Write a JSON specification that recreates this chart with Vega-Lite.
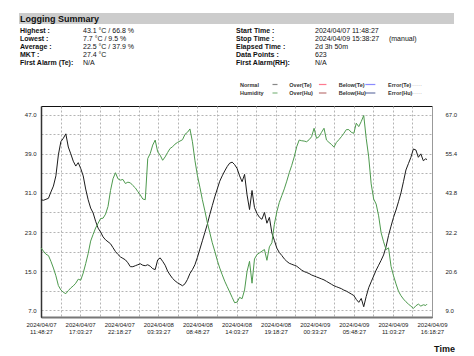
{
  "$schema": "https://vega.github.io/schema/vega-lite/v6.json",
  "width": 391,
  "height": 211,
  "autosize": {"type": "none"},
  "padding": {"left": 41, "top": 106, "right": 42, "bottom": 39},
  "background": "white",
  "config": {
    "font": "Liberation Sans",
    "view": {"stroke": "#111111", "strokeWidth": 1}
  },
  "datasets": {
    "title": [{"text": "Logging Summary"}],
    "summary": [
      {"side": "left", "row": 1, "label": "Highest :", "value": "43.1 °C / 66.8 %"},
      {"side": "left", "row": 2, "label": "Lowest :", "value": "7.7 °C / 9.5 %"},
      {"side": "left", "row": 3, "label": "Average :", "value": "22.5 °C / 37.9 %"},
      {"side": "left", "row": 4, "label": "MKT :", "value": "27.4 °C"},
      {"side": "left", "row": 5, "label": "First Alarm (Te):", "value": "N/A"},
      {"side": "right", "row": 1, "label": "Start Time :", "value": "2024/04/07 11:48:27"},
      {"side": "right", "row": 2, "label": "Stop Time :", "value": "2024/04/09 15:38:27\u00a0\u00a0\u00a0\u00a0\u00a0(manual)"},
      {"side": "right", "row": 3, "label": "Elapsed Time :", "value": "2d 3h 50m"},
      {"side": "right", "row": 4, "label": "Data Points :", "value": "623"},
      {"side": "right", "row": 5, "label": "First Alarm(RH):", "value": "N/A"}
    ],
    "legend": [
      {"row": "Te", "col": 1, "label": "Normal"},
      {"row": "Te", "col": 2, "label": "Over(Te)"},
      {"row": "Te", "col": 3, "label": "Below(Te)"},
      {"row": "Te", "col": 4, "label": "Error(Te)"},
      {"row": "Hu", "col": 1, "label": "Humidity"},
      {"row": "Hu", "col": 2, "label": "Over(Hu)"},
      {"row": "Hu", "col": 3, "label": "Below(Hu)"},
      {"row": "Hu", "col": 4, "label": "Error(Hu)"}
    ],
    "series": [
      {"t": "2024-04-07T11:48:27", "T": 29.6, "H": 27.5},
      {"t": "2024-04-07T12:08:27", "T": 29.5, "H": 26.5},
      {"t": "2024-04-07T12:28:27", "T": 29.7, "H": 25.6},
      {"t": "2024-04-07T12:48:27", "T": 29.9, "H": 25.2},
      {"t": "2024-04-07T13:08:27", "T": 31.2, "H": 23.5},
      {"t": "2024-04-07T13:28:27", "T": 32.4, "H": 21.5},
      {"t": "2024-04-07T13:48:27", "T": 34.5, "H": 19.2},
      {"t": "2024-04-07T14:08:27", "T": 38.8, "H": 16.3},
      {"t": "2024-04-07T14:28:27", "T": 41.5, "H": 15.0},
      {"t": "2024-04-07T14:48:27", "T": 42.2, "H": 14.3},
      {"t": "2024-04-07T15:08:27", "T": 43.1, "H": 13.9},
      {"t": "2024-04-07T15:28:27", "T": 40.4, "H": 14.8},
      {"t": "2024-04-07T15:48:27", "T": 39.0, "H": 15.6},
      {"t": "2024-04-07T16:08:27", "T": 37.5, "H": 16.2},
      {"t": "2024-04-07T16:28:27", "T": 36.5, "H": 17.0},
      {"t": "2024-04-07T16:48:27", "T": 37.2, "H": 18.2},
      {"t": "2024-04-07T17:08:27", "T": 36.0, "H": 17.9},
      {"t": "2024-04-07T17:28:27", "T": 34.5, "H": 20.0},
      {"t": "2024-04-07T17:48:27", "T": 31.8, "H": 22.8},
      {"t": "2024-04-07T18:08:27", "T": 29.6, "H": 25.8},
      {"t": "2024-04-07T18:28:27", "T": 27.9, "H": 29.5},
      {"t": "2024-04-07T18:48:27", "T": 26.9, "H": 31.5},
      {"t": "2024-04-07T19:08:27", "T": 25.2, "H": 33.4},
      {"t": "2024-04-07T19:28:27", "T": 23.8, "H": 34.8},
      {"t": "2024-04-07T19:48:27", "T": 23.0, "H": 36.2},
      {"t": "2024-04-07T20:08:27", "T": 22.0, "H": 36.3},
      {"t": "2024-04-07T20:28:27", "T": 21.4, "H": 37.5},
      {"t": "2024-04-07T20:48:27", "T": 21.0, "H": 39.8},
      {"t": "2024-04-07T21:08:27", "T": 20.6, "H": 44.5},
      {"t": "2024-04-07T21:28:27", "T": 19.8, "H": 48.0},
      {"t": "2024-04-07T21:48:27", "T": 19.0, "H": 49.8},
      {"t": "2024-04-07T22:08:27", "T": 18.4, "H": 48.0},
      {"t": "2024-04-07T22:28:27", "T": 17.9, "H": 47.6},
      {"t": "2024-04-07T22:48:27", "T": 17.6, "H": 47.8},
      {"t": "2024-04-07T23:08:27", "T": 17.3, "H": 46.6},
      {"t": "2024-04-07T23:28:27", "T": 16.7, "H": 47.0},
      {"t": "2024-04-07T23:48:27", "T": 15.9, "H": 46.8},
      {"t": "2024-04-08T00:08:27", "T": 15.9, "H": 46.0},
      {"t": "2024-04-08T00:28:27", "T": 16.1, "H": 45.3},
      {"t": "2024-04-08T00:48:27", "T": 16.3, "H": 44.2},
      {"t": "2024-04-08T01:08:27", "T": 16.5, "H": 43.2},
      {"t": "2024-04-08T01:28:27", "T": 16.2, "H": 42.0},
      {"t": "2024-04-08T01:48:27", "T": 16.1, "H": 41.8},
      {"t": "2024-04-08T02:08:27", "T": 16.3, "H": 54.0},
      {"t": "2024-04-08T02:28:27", "T": 16.0, "H": 55.5},
      {"t": "2024-04-08T02:48:27", "T": 15.5, "H": 58.0},
      {"t": "2024-04-08T03:08:27", "T": 15.3, "H": 59.5},
      {"t": "2024-04-08T03:28:27", "T": 17.3, "H": 56.0},
      {"t": "2024-04-08T03:48:27", "T": 17.7, "H": 55.0},
      {"t": "2024-04-08T04:08:27", "T": 17.0, "H": 53.5},
      {"t": "2024-04-08T04:28:27", "T": 16.2, "H": 54.5},
      {"t": "2024-04-08T04:48:27", "T": 15.0, "H": 55.8},
      {"t": "2024-04-08T05:08:27", "T": 14.2, "H": 57.0},
      {"t": "2024-04-08T05:28:27", "T": 13.5, "H": 57.5},
      {"t": "2024-04-08T05:48:27", "T": 13.0, "H": 58.3},
      {"t": "2024-04-08T06:08:27", "T": 12.6, "H": 58.8},
      {"t": "2024-04-08T06:28:27", "T": 12.3, "H": 59.2},
      {"t": "2024-04-08T06:48:27", "T": 12.0, "H": 59.6},
      {"t": "2024-04-08T07:08:27", "T": 12.4, "H": 61.2},
      {"t": "2024-04-08T07:28:27", "T": 13.3, "H": 61.8},
      {"t": "2024-04-08T07:48:27", "T": 14.5, "H": 62.8},
      {"t": "2024-04-08T08:08:27", "T": 15.3, "H": 59.0},
      {"t": "2024-04-08T08:28:27", "T": 16.3, "H": 53.5},
      {"t": "2024-04-08T08:48:27", "T": 17.8, "H": 49.0},
      {"t": "2024-04-08T09:08:27", "T": 19.5, "H": 45.5},
      {"t": "2024-04-08T09:28:27", "T": 21.2, "H": 41.8},
      {"t": "2024-04-08T09:48:27", "T": 22.9, "H": 38.5},
      {"t": "2024-04-08T10:08:27", "T": 24.6, "H": 35.0},
      {"t": "2024-04-08T10:28:27", "T": 26.6, "H": 32.0},
      {"t": "2024-04-08T10:48:27", "T": 28.4, "H": 29.0},
      {"t": "2024-04-08T11:08:27", "T": 30.2, "H": 26.5},
      {"t": "2024-04-08T11:28:27", "T": 31.8, "H": 23.8},
      {"t": "2024-04-08T11:48:27", "T": 33.4, "H": 21.5},
      {"t": "2024-04-08T12:08:27", "T": 34.5, "H": 19.5},
      {"t": "2024-04-08T12:28:27", "T": 35.5, "H": 17.6},
      {"t": "2024-04-08T12:48:27", "T": 36.4, "H": 16.0},
      {"t": "2024-04-08T13:08:27", "T": 37.1, "H": 14.4},
      {"t": "2024-04-08T13:28:27", "T": 37.3, "H": 12.8},
      {"t": "2024-04-08T13:48:27", "T": 36.8, "H": 11.2},
      {"t": "2024-04-08T14:08:27", "T": 36.0, "H": 11.4},
      {"t": "2024-04-08T14:28:27", "T": 34.5, "H": 12.8},
      {"t": "2024-04-08T14:48:27", "T": 33.3, "H": 12.4},
      {"t": "2024-04-08T15:08:27", "T": 34.8, "H": 15.0},
      {"t": "2024-04-08T15:28:27", "T": 30.6, "H": 20.5},
      {"t": "2024-04-08T15:48:27", "T": 27.6, "H": 23.5},
      {"t": "2024-04-08T16:08:27", "T": 31.5, "H": 17.0},
      {"t": "2024-04-08T16:28:27", "T": 28.0, "H": 24.2},
      {"t": "2024-04-08T16:48:27", "T": 26.8, "H": 25.5},
      {"t": "2024-04-08T17:08:27", "T": 26.0, "H": 26.0},
      {"t": "2024-04-08T17:28:27", "T": 25.6, "H": 26.5},
      {"t": "2024-04-08T17:48:27", "T": 27.0, "H": 27.0},
      {"t": "2024-04-08T18:08:27", "T": 24.8, "H": 23.8},
      {"t": "2024-04-08T18:28:27", "T": 26.0, "H": 27.8},
      {"t": "2024-04-08T18:48:27", "T": 22.8, "H": 29.0},
      {"t": "2024-04-08T19:08:27", "T": 21.3, "H": 34.5},
      {"t": "2024-04-08T19:28:27", "T": 19.7, "H": 38.2},
      {"t": "2024-04-08T19:48:27", "T": 18.8, "H": 41.0},
      {"t": "2024-04-08T20:08:27", "T": 18.2, "H": 43.0},
      {"t": "2024-04-08T20:28:27", "T": 17.5, "H": 45.0},
      {"t": "2024-04-08T20:48:27", "T": 17.0, "H": 47.3},
      {"t": "2024-04-08T21:08:27", "T": 16.6, "H": 49.8},
      {"t": "2024-04-08T21:28:27", "T": 16.4, "H": 52.0},
      {"t": "2024-04-08T21:48:27", "T": 16.2, "H": 54.5},
      {"t": "2024-04-08T22:08:27", "T": 16.0, "H": 57.5},
      {"t": "2024-04-08T22:28:27", "T": 15.6, "H": 59.5},
      {"t": "2024-04-08T22:48:27", "T": 15.2, "H": 59.3},
      {"t": "2024-04-08T23:08:27", "T": 14.9, "H": 59.2},
      {"t": "2024-04-08T23:28:27", "T": 14.7, "H": 59.0},
      {"t": "2024-04-08T23:48:27", "T": 14.5, "H": 59.6},
      {"t": "2024-04-09T00:08:27", "T": 14.2, "H": 60.5},
      {"t": "2024-04-09T00:28:27", "T": 14.0, "H": 63.0},
      {"t": "2024-04-09T00:48:27", "T": 13.8, "H": 60.0},
      {"t": "2024-04-09T01:08:27", "T": 13.6, "H": 60.5},
      {"t": "2024-04-09T01:28:27", "T": 13.4, "H": 61.8},
      {"t": "2024-04-09T01:48:27", "T": 13.2, "H": 63.0},
      {"t": "2024-04-09T02:08:27", "T": 12.9, "H": 59.5},
      {"t": "2024-04-09T02:28:27", "T": 12.6, "H": 58.8},
      {"t": "2024-04-09T02:48:27", "T": 12.3, "H": 58.2},
      {"t": "2024-04-09T03:08:27", "T": 12.0, "H": 57.4},
      {"t": "2024-04-09T03:28:27", "T": 11.8, "H": 58.8},
      {"t": "2024-04-09T03:48:27", "T": 11.6, "H": 59.6},
      {"t": "2024-04-09T04:08:27", "T": 11.4, "H": 60.5},
      {"t": "2024-04-09T04:28:27", "T": 11.1, "H": 61.5},
      {"t": "2024-04-09T04:48:27", "T": 10.9, "H": 62.6},
      {"t": "2024-04-09T05:08:27", "T": 10.6, "H": 62.6},
      {"t": "2024-04-09T05:28:27", "T": 10.3, "H": 61.8},
      {"t": "2024-04-09T05:48:27", "T": 10.0, "H": 61.5},
      {"t": "2024-04-09T06:08:27", "T": 9.2, "H": 64.5},
      {"t": "2024-04-09T06:28:27", "T": 8.6, "H": 63.5},
      {"t": "2024-04-09T06:48:27", "T": 9.4, "H": 65.0},
      {"t": "2024-04-09T07:08:27", "T": 7.7, "H": 66.8},
      {"t": "2024-04-09T07:28:27", "T": 9.8, "H": 60.0},
      {"t": "2024-04-09T07:48:27", "T": 11.6, "H": 54.5},
      {"t": "2024-04-09T08:08:27", "T": 12.8, "H": 46.5},
      {"t": "2024-04-09T08:28:27", "T": 14.0, "H": 42.0},
      {"t": "2024-04-09T08:48:27", "T": 15.2, "H": 40.5},
      {"t": "2024-04-09T09:08:27", "T": 16.2, "H": 37.0},
      {"t": "2024-04-09T09:28:27", "T": 17.2, "H": 32.0},
      {"t": "2024-04-09T09:48:27", "T": 18.3, "H": 29.3},
      {"t": "2024-04-09T10:08:27", "T": 20.0, "H": 27.0},
      {"t": "2024-04-09T10:28:27", "T": 22.3, "H": 27.5},
      {"t": "2024-04-09T10:48:27", "T": 24.2, "H": 22.0},
      {"t": "2024-04-09T11:08:27", "T": 26.0, "H": 19.2},
      {"t": "2024-04-09T11:28:27", "T": 27.5, "H": 16.8},
      {"t": "2024-04-09T11:48:27", "T": 29.2, "H": 14.6},
      {"t": "2024-04-09T12:08:27", "T": 31.0, "H": 13.3},
      {"t": "2024-04-09T12:28:27", "T": 33.3, "H": 12.3},
      {"t": "2024-04-09T12:48:27", "T": 35.7, "H": 11.5},
      {"t": "2024-04-09T13:08:27", "T": 37.0, "H": 10.8},
      {"t": "2024-04-09T13:28:27", "T": 38.3, "H": 10.2},
      {"t": "2024-04-09T13:48:27", "T": 40.0, "H": 9.5},
      {"t": "2024-04-09T14:08:27", "T": 39.8, "H": 10.3},
      {"t": "2024-04-09T14:28:27", "T": 38.3, "H": 10.8},
      {"t": "2024-04-09T14:48:27", "T": 39.0, "H": 10.2},
      {"t": "2024-04-09T15:08:27", "T": 37.6, "H": 10.6},
      {"t": "2024-04-09T15:28:27", "T": 38.0, "H": 10.4},
      {"t": "2024-04-09T15:38:27", "T": 37.8, "H": 10.8}
    ]
  },
  "layer": [
    {
      "data": {"name": "title"},
      "layer": [
        {
          "mark": {"type": "rect", "color": "#cccccc"},
          "encoding": {
            "x": {"field": "text", "type": "nominal", "scale": {"type": "band", "range": [-22, 413], "paddingInner": 0, "paddingOuter": 0}, "axis": null},
            "y": {"field": "text", "type": "nominal", "scale": {"type": "band", "range": [-93, -82], "paddingInner": 0, "paddingOuter": 0}, "axis": null}
          }
        },
        {
          "mark": {"type": "text", "align": "left", "baseline": "middle", "fontSize": 9, "fontWeight": "bold", "color": "#111111", "dx": 1},
          "encoding": {
            "x": {"field": "text", "type": "nominal", "bandPosition": 0, "scale": {"type": "band", "range": [-22, 413], "paddingInner": 0, "paddingOuter": 0}, "axis": null},
            "y": {"field": "text", "type": "nominal", "bandPosition": 0.5, "scale": {"type": "band", "range": [-93, -82], "paddingInner": 0, "paddingOuter": 0}, "axis": null},
            "text": {"field": "text"}
          }
        }
      ]
    },
    {
      "data": {"name": "summary"},
      "mark": {"type": "text", "align": "left", "baseline": "middle", "fontSize": 7, "fontWeight": "bold", "color": "#111111"},
      "encoding": {
        "x": {"field": "side", "type": "nominal", "scale": {"type": "point", "domain": ["left", "right"], "range": [-21, 195], "padding": 0}, "axis": null},
        "y": {"field": "row", "type": "ordinal", "scale": {"type": "point", "range": [-75, -43], "padding": 0}, "axis": null},
        "text": {"field": "label"}
      }
    },
    {
      "data": {"name": "summary"},
      "mark": {"type": "text", "align": "left", "baseline": "middle", "fontSize": 7, "color": "#111111"},
      "encoding": {
        "x": {"field": "side", "type": "nominal", "scale": {"type": "point", "domain": ["left", "right"], "range": [42, 274], "padding": 0}, "axis": null},
        "y": {"field": "row", "type": "ordinal", "scale": {"type": "point", "range": [-75, -43], "padding": 0}, "axis": null},
        "text": {"field": "value"}
      }
    },
    {
      "data": {"name": "legend"},
      "mark": {"type": "text", "align": "left", "baseline": "middle", "fontSize": 5.5, "fontWeight": "bold", "color": "#333333"},
      "encoding": {
        "x": {"field": "col", "type": "ordinal", "scale": {"type": "point", "range": [199, 347], "padding": 0}, "axis": null},
        "y": {"field": "row", "type": "nominal", "scale": {"type": "point", "domain": ["Te", "Hu"], "range": [-21.5, -13], "padding": 0}, "axis": null},
        "text": {"field": "label"}
      }
    },
    {
      "data": {"name": "legend"},
      "transform": [{"filter": "datum.col != 4"}],
      "mark": {"type": "tick", "orient": "horizontal", "thickness": 1.2},
      "encoding": {
        "x": {"field": "col", "type": "ordinal", "scale": {"type": "point", "domain": [1, 2, 3, 4], "range": [234, 377], "padding": 0}, "axis": null},
        "y": {"field": "row", "type": "nominal", "scale": {"type": "point", "domain": ["Te", "Hu"], "range": [-21.5, -13], "padding": 0}, "axis": null},
        "size": {"field": "col", "type": "ordinal", "scale": {"domain": [1, 2, 3], "range": [5, 10, 11]}, "legend": null},
        "color": {"field": "label", "type": "nominal", "scale": {"domain": ["Normal", "Over(Te)", "Below(Te)", "Humidity", "Over(Hu)", "Below(Hu)"], "range": ["#555555", "#ff4060", "#5a5aff", "#4e9a4e", "#a03a3a", "#2a3a80"]}, "legend": null}
      }
    },
    {
      "data": {"name": "legend"},
      "transform": [{"filter": "datum.col == 4"}],
      "mark": {"type": "text", "text": "·····", "fontSize": 6, "color": "#888888", "baseline": "middle", "align": "left"},
      "encoding": {
        "x": {"field": "col", "type": "ordinal", "scale": {"type": "point", "domain": [1, 2, 3, 4], "range": [229, 371], "padding": 0}, "axis": null},
        "y": {"field": "row", "type": "nominal", "scale": {"type": "point", "domain": ["Te", "Hu"], "range": [-21.5, -13], "padding": 0}, "axis": null}
      }
    },
    {
      "data": {"name": "series"},
      "layer": [
        {
          "mark": {"type": "line", "color": "#1c1c1c", "strokeWidth": 1},
          "encoding": {
            "x": {
              "field": "t", "type": "temporal",
              "scale": {"domain": [{"year": 2024, "month": 4, "date": 7, "hours": 11, "minutes": 48, "seconds": 27}, {"year": 2024, "month": 4, "date": 9, "hours": 16, "minutes": 18, "seconds": 27}]},
              "axis": {
                "values": [
                  {"year": 2024, "month": 4, "date": 7, "hours": 11, "minutes": 48, "seconds": 27},
                  {"year": 2024, "month": 4, "date": 7, "hours": 14, "minutes": 25, "seconds": 57},
                  {"year": 2024, "month": 4, "date": 7, "hours": 17, "minutes": 3, "seconds": 27},
                  {"year": 2024, "month": 4, "date": 7, "hours": 19, "minutes": 40, "seconds": 57},
                  {"year": 2024, "month": 4, "date": 7, "hours": 22, "minutes": 18, "seconds": 27},
                  {"year": 2024, "month": 4, "date": 8, "hours": 0, "minutes": 55, "seconds": 57},
                  {"year": 2024, "month": 4, "date": 8, "hours": 3, "minutes": 33, "seconds": 27},
                  {"year": 2024, "month": 4, "date": 8, "hours": 6, "minutes": 10, "seconds": 57},
                  {"year": 2024, "month": 4, "date": 8, "hours": 8, "minutes": 48, "seconds": 27},
                  {"year": 2024, "month": 4, "date": 8, "hours": 11, "minutes": 25, "seconds": 57},
                  {"year": 2024, "month": 4, "date": 8, "hours": 14, "minutes": 3, "seconds": 27},
                  {"year": 2024, "month": 4, "date": 8, "hours": 16, "minutes": 40, "seconds": 57},
                  {"year": 2024, "month": 4, "date": 8, "hours": 19, "minutes": 18, "seconds": 27},
                  {"year": 2024, "month": 4, "date": 8, "hours": 21, "minutes": 55, "seconds": 57},
                  {"year": 2024, "month": 4, "date": 9, "hours": 0, "minutes": 33, "seconds": 27},
                  {"year": 2024, "month": 4, "date": 9, "hours": 3, "minutes": 10, "seconds": 57},
                  {"year": 2024, "month": 4, "date": 9, "hours": 5, "minutes": 48, "seconds": 27},
                  {"year": 2024, "month": 4, "date": 9, "hours": 8, "minutes": 25, "seconds": 57},
                  {"year": 2024, "month": 4, "date": 9, "hours": 11, "minutes": 3, "seconds": 27},
                  {"year": 2024, "month": 4, "date": 9, "hours": 13, "minutes": 40, "seconds": 57},
                  {"year": 2024, "month": 4, "date": 9, "hours": 16, "minutes": 18, "seconds": 27}
                ],
                "tickCount": 100,
                "labelExpr": "round((datum.value - datetime(2024, 3, 7, 11, 48, 27)) / 9450000) % 2 == 0 ? [timeFormat(datum.value, '%Y/%m/%d'), timeFormat(datum.value, '%H:%M:%S')] : ''",
                "labelOverlap": false,
                "labelFlush": false,
                "labelFontSize": 6,
                "labelColor": "#222222",
                "labelLineHeight": 7,
                "labelPadding": 4,
                "labelAngle": 0,
                "ticks": false,
                "grid": true,
                "gridColor": "#b4b4b4",
                "gridDash": [2, 2],
                "gridWidth": 1,
                "gridOpacity": 1,
                "domainColor": "#777777",
                "domainWidth": 2,
                "title": "Time",
                "titleFontSize": 9,
                "titleFontWeight": "bold",
                "titleColor": "#111111",
                "titleX": 403,
                "titleY": 31,
                "titleAlign": "center",
                "titleBaseline": "middle"
              }
            },
            "y": {
              "field": "T", "type": "quantitative",
              "scale": {"domain": [5.6, 48.8], "nice": false, "zero": false},
              "axis": {
                "orient": "left",
                "values": [7, 11, 15, 19, 23, 27, 31, 35, 39, 43, 47],
                "tickCount": 100,
                "labelExpr": "(datum.value - 7) % 8 == 0 ? format(datum.value, '.1f') : ''",
                "labelOverlap": false,
                "labelFontSize": 6,
                "labelColor": "#222222",
                "labelPadding": 5,
                "ticks": false,
                "grid": true,
                "gridColor": "#b4b4b4",
                "gridDash": [2, 2],
                "gridWidth": 1,
                "gridOpacity": 1,
                "domainColor": "#333333",
                "domainWidth": 1.5,
                "title": null
              }
            }
          }
        },
        {
          "mark": {"type": "line", "color": "#4e9a4e", "strokeWidth": 1},
          "encoding": {
            "x": {
              "field": "t", "type": "temporal",
              "scale": {"domain": [{"year": 2024, "month": 4, "date": 7, "hours": 11, "minutes": 48, "seconds": 27}, {"year": 2024, "month": 4, "date": 9, "hours": 16, "minutes": 18, "seconds": 27}]}
            },
            "y": {
              "field": "H", "type": "quantitative",
              "scale": {"domain": [6.97, 69.61], "nice": false, "zero": false},
              "axis": {
                "orient": "right",
                "values": [9, 20.6, 32.2, 43.8, 55.4, 67],
                "tickCount": 100,
                "format": ".1f",
                "labelOverlap": false,
                "labelFontSize": 6,
                "labelColor": "#222222",
                "labelPadding": 13,
                "ticks": false,
                "grid": false,
                "domainColor": "#999999",
                "domainWidth": 1,
                "title": null
              }
            }
          }
        }
      ],
      "resolve": {"scale": {"y": "independent"}}
    }
  ],
  "resolve": {"scale": {"x": "independent", "y": "independent", "color": "independent", "size": "independent"}}
}
